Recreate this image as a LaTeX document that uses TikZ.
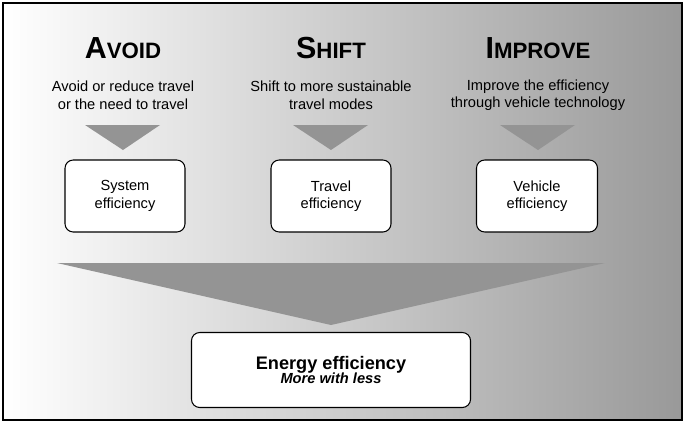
\documentclass[tikz,border=0pt]{standalone}
\usepackage{fontspec}
\setmainfont{Liberation Sans}
\begin{document}
\begin{tikzpicture}[x=0.03cm,y=-0.03cm,
  tri/.style={fill=black!42,draw=none},
  box/.style={draw=black,line width=0.9pt,fill=white,rounded corners=7pt},
  head/.style={font=\bfseries\fontsize{26}{28}\selectfont},
  sub/.style={font=\fontsize{12.5}{15}\selectfont,align=center}]
\useasboundingbox (0,0) rectangle (685,423);
\shade[left color=white,right color=black!40] (3,3) rectangle (682,420);
\draw[line width=1.6pt] (3,3) rectangle (682,420);
\node[head] (h1) at (123,48) {A\fontsize{19}{20}\selectfont VOID};
\node[head] (h2) at (331,48) {S\fontsize{19}{20}\selectfont HIFT};
\node[head] (h3) at (538,48) {I\fontsize{19}{20}\selectfont MPROVE};
\node[sub] (s1) at (123,95) {Avoid or reduce travel\\or the need to travel};
\node[sub] (s2) at (331,95) {Shift to more sustainable\\travel modes};
\node[sub] (s3) at (538,95) {Improve the efficiency\\through vehicle technology};
\fill[tri] (85,125) -- (160,125) -- (123,150) -- cycle;
\fill[tri] (293,125) -- (368,125) -- (331,150) -- cycle;
\fill[tri] (500,125) -- (575,125) -- (538,150) -- cycle;
\node[box,minimum width=120*0.03cm,minimum height=72*0.03cm,sub] (b1) at (125,196) {System\\efficiency};
\node[box,minimum width=120*0.03cm,minimum height=72*0.03cm,sub] (b2) at (331,196) {Travel\\efficiency};
\node[box,minimum width=121*0.03cm,minimum height=72*0.03cm,sub] (b3) at (537,196) {Vehicle\\efficiency};
\fill[tri] (57,263) -- (605,263) -- (331,325) -- cycle;
\node[box,minimum width=279*0.03cm,minimum height=75*0.03cm,align=center] (e) at (331,370)
 {{\bfseries\fontsize{15.5}{18}\selectfont Energy efficiency}\\[-1pt]{\bfseries\itshape\fontsize{12.5}{15}\selectfont More with less}};
\end{tikzpicture}
\end{document}
